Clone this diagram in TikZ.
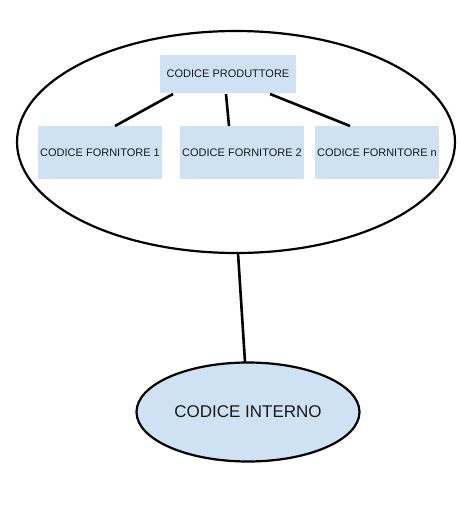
\documentclass[tikz,border=0pt]{standalone}
\usepackage{fontspec}
\setmainfont{Liberation Sans}
\usetikzlibrary{shapes.geometric}
\definecolor{boxblue}{HTML}{CFE2F3}
\definecolor{txt}{HTML}{1A1A1A}
\begin{document}
\begin{tikzpicture}[x=1pt,y=-1pt,
  codebox/.style={rectangle, fill=boxblue, draw=none, minimum width=124pt, minimum height=53pt, inner sep=0pt, font=\fontsize{11}{13}\selectfont, text=txt},
  link/.style={line width=2.6pt, draw=black},
  outline/.style={ellipse, draw=black, line width=2.2pt, inner sep=0pt}]
\useasboundingbox (0,0) rectangle (474,508);
\node[outline, minimum width=438pt, minimum height=222pt] (group) at (236,142) {};
\node[codebox, minimum width=136pt, minimum height=38pt] (prod) at (228,74) {CODICE PRODUTTORE};
\node[codebox] (f1) at (100,152.5) {CODICE FORNITORE 1};
\node[codebox] (f2) at (242,152.5) {CODICE FORNITORE 2};
\node[codebox] (fn) at (377,152.5) {CODICE FORNITORE n};
\node[outline, fill=boxblue, minimum width=223pt, minimum height=99pt, font=\fontsize{17}{20}\selectfont, text=txt] (int) at (248,412) {CODICE INTERNO};
\coordinate (p1) at (173,94); \coordinate (q1) at (115,126);
\coordinate (p2) at (226,94); \coordinate (q2) at (229,126);
\coordinate (p3) at (270,94); \coordinate (q3) at (350,126);
\draw[link] (p1) -- (q1);
\draw[link] (p2) -- (q2);
\draw[link] (p3) -- (q3);
\coordinate (gb) at (238,253);
\coordinate (it) at (245,362);
\draw[link] (gb) -- (it);
\end{tikzpicture}
\end{document}
